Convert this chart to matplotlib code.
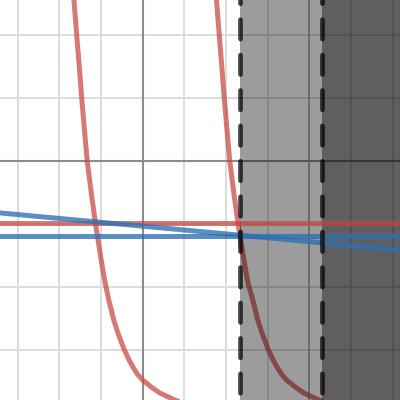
import matplotlib
matplotlib.use('Agg')
import matplotlib.pyplot as plt

RED = '#c74440'
BLUE = '#2d70b3'

# view window (grid units)
X_LIM = (-3.42, 6.17)
Y_LIM = (-3.80, 2.55)
GRID_X = [-3, -2, -1, 1, 2, 3, 4, 5, 6]
GRID_Y = [-3, -2, -1, 1, 2]

# red decaying curves
curve_y = [2.55, 2.01, 1.50, 1.01, 0.49, -0.01, -0.59, -0.99, -1.26, -1.58,
           -1.93, -2.21, -2.53, -2.69, -2.80, -2.99, -3.16, -3.29, -3.39,
           -3.48, -3.59, -3.69, -3.80, -3.88]
curve1_x = [-1.647, -1.583, -1.520, -1.463, -1.396, -1.329, -1.216, -1.132,
            -1.070, -0.993, -0.902, -0.813, -0.693, -0.616, -0.556, -0.448,
            -0.329, -0.221, -0.125, -0.005, 0.199, 0.415, 0.775, 1.134]
curve2_x = [1.770, 1.835, 1.897, 1.954, 2.022, 2.089, 2.201, 2.285, 2.350,
            2.429, 2.522, 2.640, 2.760, 2.837, 2.897, 3.005, 3.125, 3.233,
            3.329, 3.448, 3.652, 3.868, 4.228, 4.588]

# straight lines
red_level = -0.99
blue_level = -1.19
blue_slope_x = [-3.42, 6.17]
blue_slope_y = [-0.83, -1.42]

# shaded bounds (dashed edges)
shade_starts = [2.33, 4.31]
marked_x = 4


def draw():
    plt.rcParams['lines.scale_dashes'] = False
    fig = plt.figure(figsize=(4, 4), dpi=100)
    ax = fig.add_axes([0, 0, 1, 1])
    ax.set_xlim(*X_LIM)
    ax.set_ylim(*Y_LIM)
    ax.axis('off')

    for gx in GRID_X:
        ax.axvline(gx, color='#dcdcdc', lw=1.4, zorder=1)
    for gy in GRID_Y:
        ax.axhline(gy, color='#dcdcdc', lw=1.4, zorder=1)
    ax.axvline(marked_x, color='#b0b0b0', lw=1.4, zorder=1.5)
    ax.axvline(0, color='#8c8c8c', lw=1.5, zorder=2)
    ax.axhline(0, color='#8c8c8c', lw=1.5, zorder=2)

    ax.plot(curve1_x, curve_y, color=RED, alpha=0.72, lw=3.6,
            solid_capstyle='round', solid_joinstyle='round', zorder=3)
    ax.plot(curve2_x, curve_y, color=RED, alpha=0.72, lw=3.6,
            solid_capstyle='round', solid_joinstyle='round', zorder=3)

    for x0 in shade_starts:
        ax.axvspan(x0, X_LIM[1], color='black', alpha=0.39, lw=0, zorder=4)

    ax.axhline(red_level, color=RED, alpha=0.72, lw=3.6, zorder=5)
    ax.axhline(blue_level, color=BLUE, alpha=0.78, lw=3.6, zorder=5)
    ax.plot(blue_slope_x, blue_slope_y, color=BLUE, alpha=0.78, lw=3.6, zorder=5)

    for x0 in shade_starts:
        ax.plot([x0, x0], [Y_LIM[1], Y_LIM[0]], color='black', alpha=0.72,
                lw=3.4, dash_capstyle='round', zorder=6,
                linestyle=(11.7, (14, 11.5)))

    fig.savefig('out.png', dpi=100)


draw()
